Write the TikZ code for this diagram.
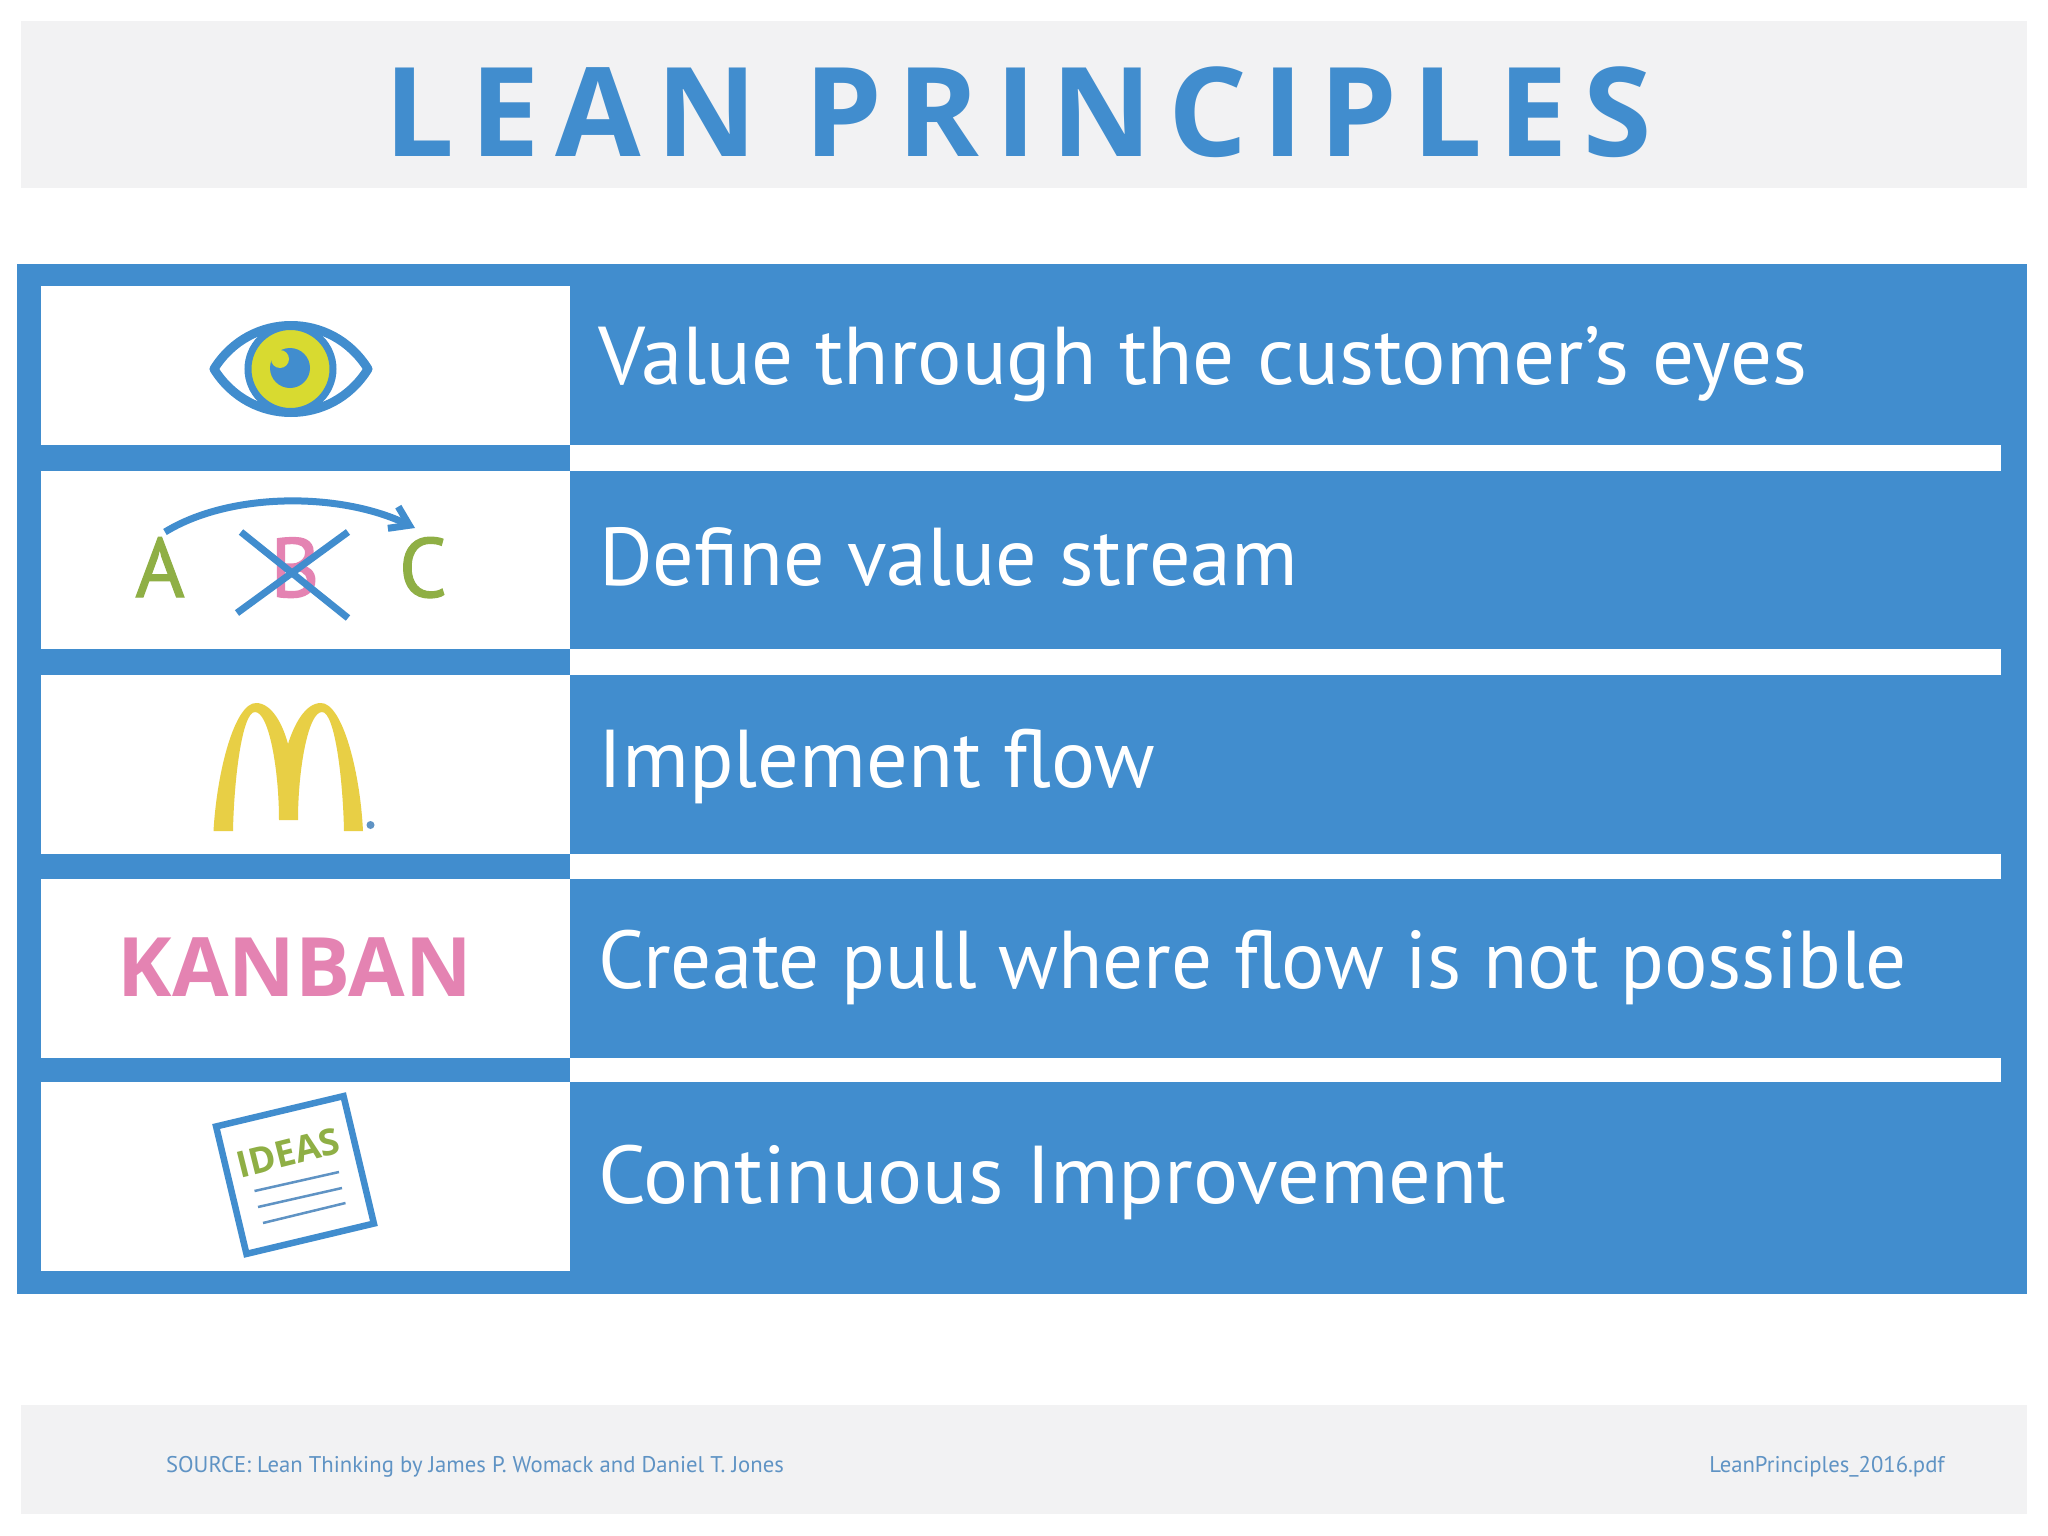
\documentclass[tikz,border=0pt]{standalone}
\usepackage{fontspec}
\setmainfont{PT Sans}
\newfontfamily\titlefont[LetterSpace=12.5]{Open Sans}
\newfontfamily\boldfont{Open Sans}
\usetikzlibrary{arrows.meta}
\definecolor{leanblue}{HTML}{418DCE}
\definecolor{bandgray}{HTML}{F2F2F3}
\definecolor{abcgreen}{HTML}{8FAF45}
\definecolor{ideapink}{HTML}{E483B2}
\definecolor{irisyellow}{HTML}{D8DA30}
\definecolor{archyellow}{HTML}{E8CF45}
\definecolor{smallblue}{HTML}{5F93C4}

\begin{document}
\begin{tikzpicture}[x=1pt,y=-1pt,>=stealth,
    row text/.style={anchor=base west,inner sep=0pt,text=white,font=\fontsize{82}{96}\selectfont\addfontfeatures{FakeStretch=#1}},
    abc letter/.style={anchor=base,inner sep=0pt,font=\fontsize{84}{96}\selectfont\addfontfeatures{FakeBold=1.5}},
    foot text/.style={anchor=base,inner sep=0pt,text=smallblue,font=\fontsize{22.7}{26}\selectfont},
    icon line/.style={draw=leanblue,line width=7pt},
    note line/.style={draw=smallblue,line width=2.5pt}]
    \useasboundingbox (0,0) rectangle (2048,1536);
    \fill[white] (0,0) rectangle (2048,1536);

    % bands and panel
    \fill[bandgray] (21,21) rectangle (2027,188);
    \fill[bandgray] (21,1405) rectangle (2027,1514);
    \fill[leanblue] (17,264) rectangle (2027,1294);

    \fill[white] (40.5,286) rectangle (569.5,445);
    \fill[white] (40.5,471) rectangle (569.5,649);
    \fill[white] (40.5,675) rectangle (569.5,854);
    \fill[white] (40.5,879) rectangle (569.5,1058);
    \fill[white] (40.5,1082) rectangle (569.5,1271);

    \fill[white] (570,445) rectangle (2001,471);
    \fill[white] (570,649) rectangle (2001,675);
    \fill[white] (570,854) rectangle (2001,879);
    \fill[white] (570,1058) rectangle (2001,1082);

    % texts
    \node[anchor=base,inner sep=0pt,text=leanblue,font=\fontsize{124}{150}\titlefont\bfseries] (title) at (1018,157) {LEAN PRINCIPLES};
    \node[row text=1.013] (value) at (598,384) {Value through the customer’s eyes};
    \node[row text=1] (stream) at (599,585) {Define value stream};
    \node[row text=1.004] (flow) at (598,787) {Implement flow};
    \node[row text=0.99] (pull) at (598,988) {Create pull where flow is not possible};
    \node[row text=1.028] (improve) at (598,1203) {Continuous Improvement};
    \node[foot text] (source) at (475,1472) {SOURCE: Lean Thinking by James P. Womack and Daniel T. Jones};
    \node[foot text] (file) at (1827,1472) {LeanPrinciples\_2016.pdf};

    % eye
    \draw[leanblue,line width=9pt,line join=round] (214,369) .. controls (250,311) and (332,311) .. (368,369) .. controls (332,427) and (250,427) .. (214,369) -- cycle;
    \node[circle,draw=leanblue,fill=irisyellow,line width=7pt,minimum size=85pt,inner sep=0pt] (iris) at (290.5,369) {};
    \fill[leanblue] (290,368) circle (20);
    \fill[irisyellow] (280,359) circle (9);

    % abc
    \node[abc letter,text=abcgreen] (A) at (160,597) {A};
    \node[abc letter,text=ideapink] (B) at (295,597) {B};
    \node[abc letter,text=abcgreen] (C) at (423,597) {C};
    \coordinate (skipstart) at (165,532);
    \coordinate (skipend) at (415,528);
    \draw[icon line,-{Straight Barb[length=18pt,width=24pt]}] (skipstart) .. controls (230,492) and (340,492) .. (skipend);
    \coordinate (crossa) at (241,532);
    \coordinate (crossb) at (348,618);
    \coordinate (crossc) at (348,532);
    \coordinate (crossd) at (237,613);
    \draw[icon line] (crossa) -- (crossb);
    \draw[icon line] (crossc) -- (crossd);

    % arches
    \fill[archyellow] (213.5,831) .. controls (217,770) and (235,703) .. (256,703) .. controls (272,703) and (283,725) .. (288,744) .. controls (294,725) and (305,703) .. (321,703) .. controls (342,703) and (360,770) .. (363,831) -- (344,831) .. controls (343,780) and (335,712) .. (322,712) .. controls (308,712) and (298,770) .. (298,820) -- (279,820) .. controls (279,770) and (269,712) .. (255,712) .. controls (242,712) and (234,780) .. (233,831) -- cycle;
    \fill[smallblue] (370.5,825) circle (4);

    % kanban
    \node[anchor=base,inner sep=0pt,text=ideapink,font=\fontsize{82}{96}\boldfont\bfseries] (kanban) at (295,996) {KANBAN};

    % note
    \node[draw=leanblue,fill=white,line width=6.5pt,rotate=13.4,minimum width=131pt,minimum height=131pt,inner sep=0pt] (note) at (295,1175) {};
    \node[rotate=14,inner sep=0pt,text=abcgreen,font=\fontsize{36.5}{44}\boldfont\bfseries] (ideas) at (288,1153) {IDEAS};
    \draw[note line] (254.5,1191) -- (339,1172);
    \draw[note line] (258,1207) -- (342,1188);
    \draw[note line] (263,1223) -- (345.5,1203);
\end{tikzpicture}
\end{document}
